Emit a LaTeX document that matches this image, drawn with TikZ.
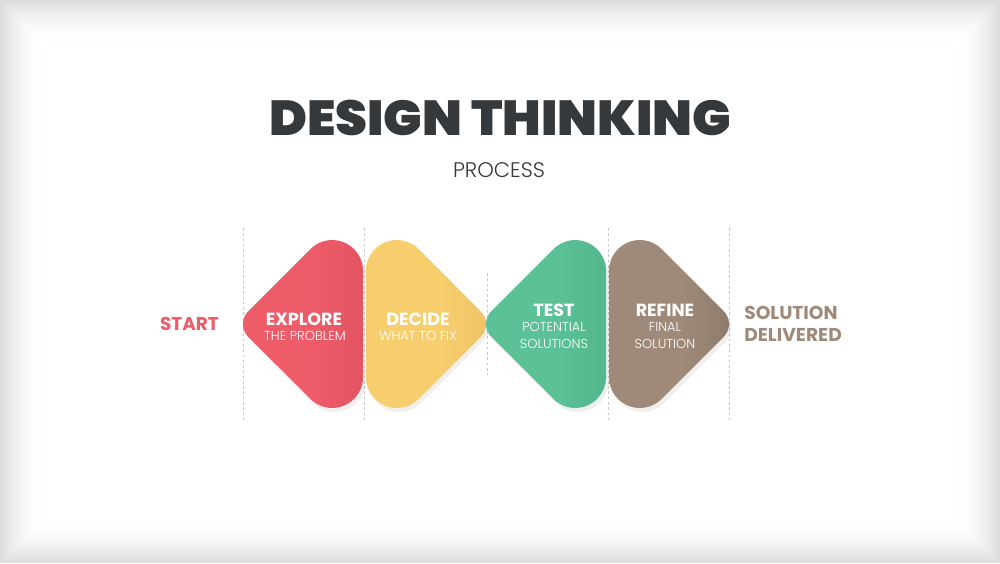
\documentclass[tikz,border=0pt]{standalone}
\usepackage{fontspec}
\setmainfont{Poppins}
\newfontfamily\heavy{Poppins Black}
\newfontfamily\light{Poppins Light}
\usetikzlibrary{positioning}
\usetikzlibrary{shadows}

\definecolor{ink}{HTML}{35393C}
\definecolor{redA}{HTML}{EE5B69}
\definecolor{redB}{HTML}{D54A5B}
\definecolor{yelA}{HTML}{F6CE6E}
\definecolor{yelB}{HTML}{E6B45B}
\definecolor{grnA}{HTML}{5CC196}
\definecolor{grnB}{HTML}{48A980}
\definecolor{brnA}{HTML}{9F8A79}
\definecolor{brnB}{HTML}{7C685A}

\pgfdeclarehorizontalshading{redsh}{100bp}{color(0bp)=(redA); color(55bp)=(redA); color(100bp)=(redB)}
\pgfdeclarehorizontalshading{yelsh}{100bp}{color(0bp)=(yelA); color(55bp)=(yelA); color(100bp)=(yelB)}
\pgfdeclarehorizontalshading{grnsh}{100bp}{color(0bp)=(grnA); color(55bp)=(grnA); color(100bp)=(grnB)}
\pgfdeclarehorizontalshading{brnsh}{100bp}{color(0bp)=(brnA); color(55bp)=(brnA); color(100bp)=(brnB)}

\tikzset{
  stage/.pic={
    \shade[shading=#1,drop shadow={opacity=0.12,shadow xshift=0.5mm,shadow yshift=-0.8mm}]
      (12.73,-12.73) arc[start angle=225,end angle=135,radius=18]
      -- (74.92,74.92) arc[start angle=135,end angle=0,radius=30.8]
      -- (127.5,-53.14) arc[start angle=0,end angle=-135,radius=30.8] -- cycle;
  }
}

\begin{document}
\begin{tikzpicture}[x=0.2mm,y=0.2mm,every node/.style={inner sep=0pt},
  head/.style={font=\bfseries\fontsize{10}{12}\selectfont,text=white},
  sub/.style={font=\light\fontsize{7.4}{9.6}\selectfont,text=white,align=center},
  divider/.style={draw=gray!45,dash pattern=on 1.5pt off 1.5pt,line width=0.4pt}]
  \useasboundingbox (0,0) rectangle (1000,563);
  \foreach \i in {0,...,15}{
    \pgfmathsetmacro\g{13*(1-\i/15)^2}
    \fill[black!\g!white] (3*\i,3*\i) rectangle (1000-3*\i,563-3*\i);
  }

  \node (title) at (500,445)[font=\heavy\fontsize{28}{30}\selectfont,text=ink]{\scalebox{1.04}[1]{DESIGN THINKING}};
  \node (process) at (499,393)[font=\light\fontsize{12}{14}\selectfont,text=ink]{PROCESS};

  \draw[divider](243,335)--(243,143);
  \draw[divider](364,335)--(364,143);
  \draw[divider](487,290)--(487,188);
  \draw[divider](608,335)--(608,143);
  \draw[divider](729,335)--(729,143);

  \pic (explore) at (235.5,239) {stage=redsh};
  \pic[xscale=-1] (decide) at (493.5,239) {stage=yelsh};
  \pic (test) at (478.5,239) {stage=grnsh};
  \pic[xscale=-1] (refine) at (736.5,239) {stage=brnsh};

  \node (start) at (189.5,239)[font=\bfseries\fontsize{10.5}{12}\selectfont,text=redA]{START};

  \node[head] (exploret) at (304,244){EXPLORE};
  \node[sub] (explores) at (305,227){THE PROBLEM};
  \node[head] (decidet) at (418,244){DECIDE};
  \node[sub] (decides) at (418,227){WHAT TO FIX};
  \node[head] (testt) at (554,253){TEST};
  \node[sub] (tests) at (554,227.5){POTENTIAL\\SOLUTIONS};
  \node[head] (refinet) at (665,253){REFINE};
  \node[sub] (refines) at (665,227.5){FINAL\\SOLUTION};

  \node (done) at (744,239)[anchor=west,align=left,font=\bfseries\fontsize{10.6}{12.5}\selectfont,text=brnA]{SOLUTION\\DELIVERED};
\end{tikzpicture}
\end{document}
